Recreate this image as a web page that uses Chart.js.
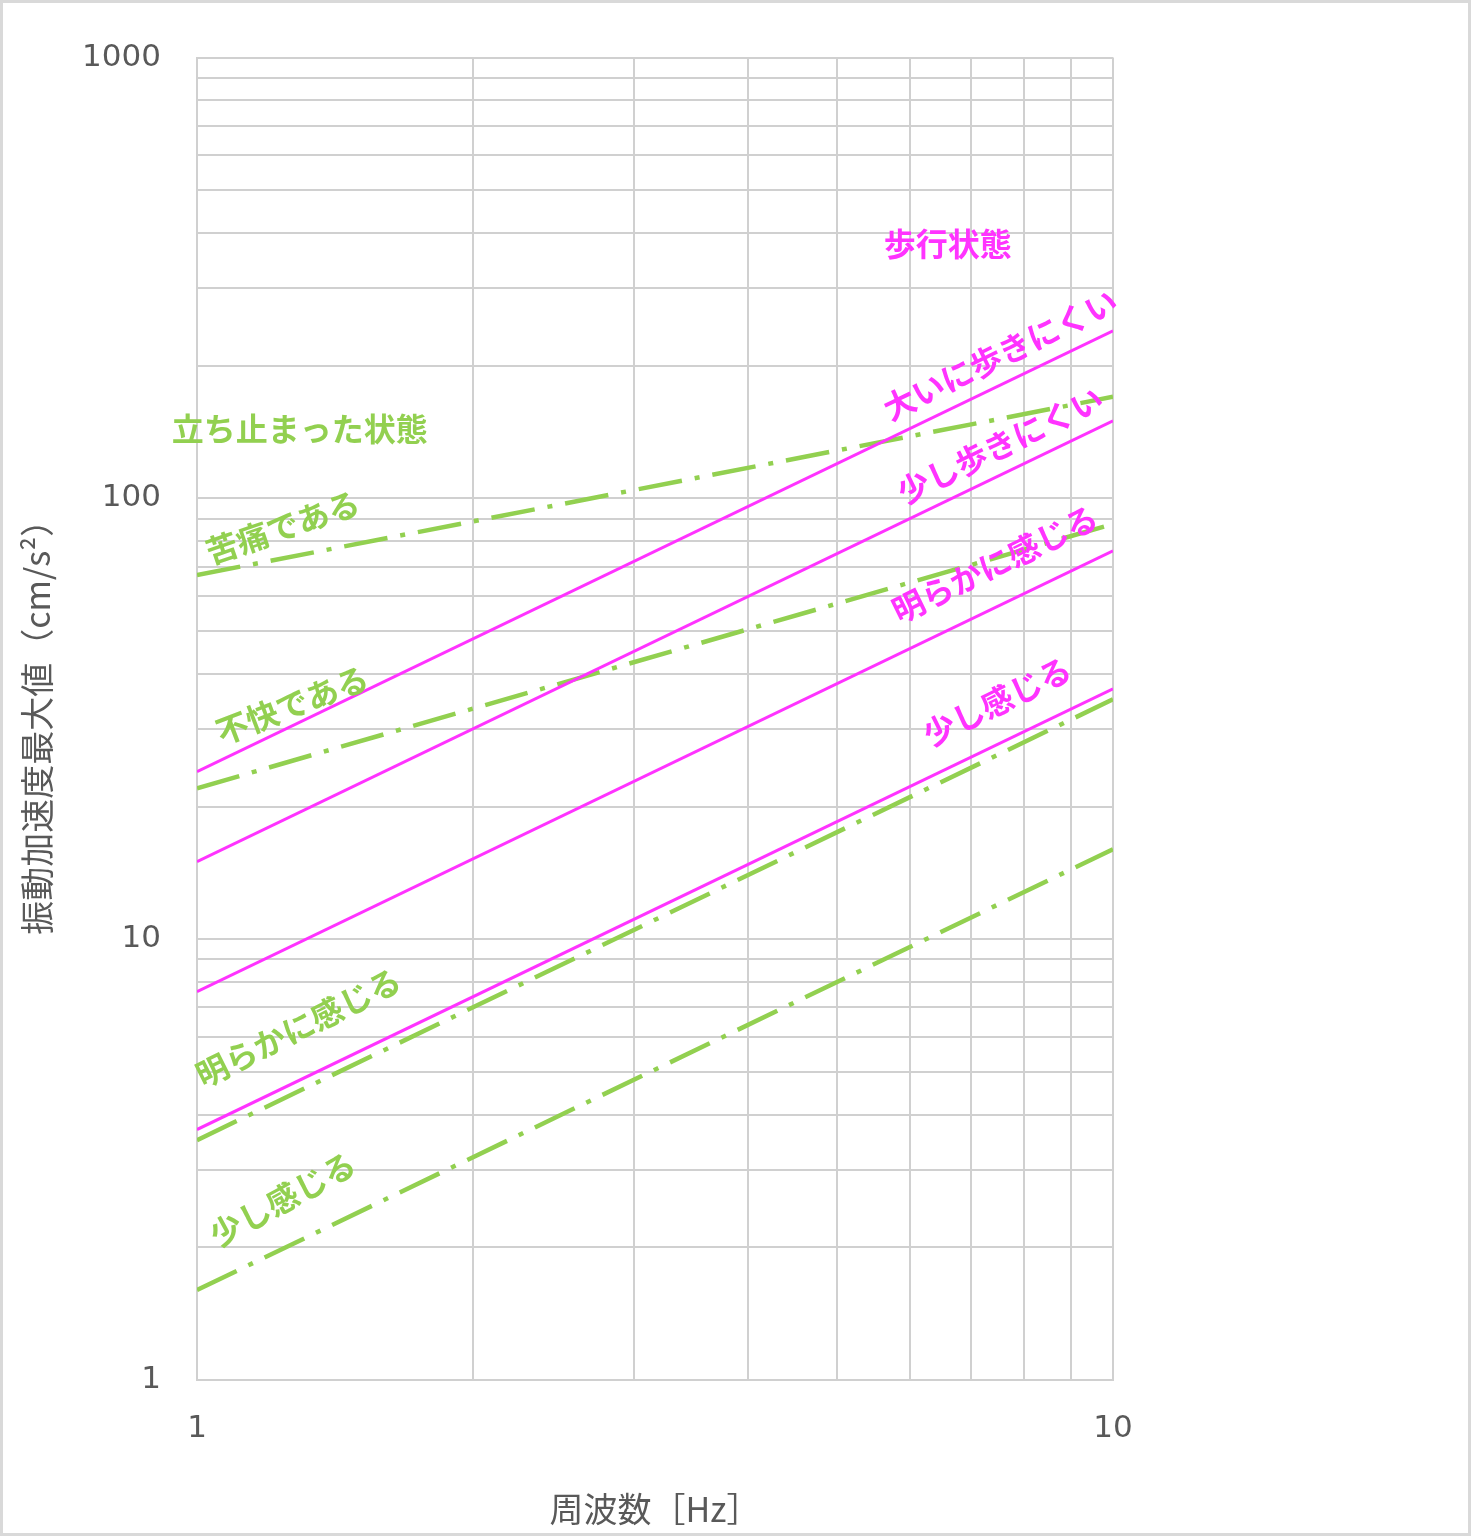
<!DOCTYPE html>
<html><head><meta charset="utf-8">
<script src="https://cdn.jsdelivr.net/npm/chart.js@4/dist/chart.umd.min.js"></script>
<style>
html,body{margin:0;padding:0;background:#fff}
#wrap{width:1471px;height:1536px;position:relative;box-sizing:border-box;border:3px solid #d9d9d9}
canvas{position:absolute;left:0;top:0}
</style></head><body>
<div id="wrap"><canvas id="c" width="1465" height="1530"></canvas></div>
<script>
const xRange = [1, 10];
const walkBad   = [24, 240];   // 大いに歩きにくい
const walkHard  = [15, 150];   // 少し歩きにくい
const walkClear = [7.6, 76];   // 明らかに感じる
const walkSlight= [3.7, 37];   // 少し感じる
const standPain = [67, 170];   // 苦痛である
const standUnc  = [22, 87.5];  // 不快である
const standClear= [3.5, 35];   // 明らかに感じる
const standSlight=[1.6, 16];   // 少し感じる
const yTickLabels = ['1','10','100','1000'];
const xTickLabels = ['1','10'];

const MAG = '#ff33ff', GRN = '#92d050';
const labels = [
  {t:'歩行状態', x:6.6, y:378, a:0, c:MAG},
  {t:'大いに歩きにくい', x:7.53, y:212, a:-26, c:MAG},
  {t:'少し歩きにくい', x:7.53, y:132, a:-26, c:MAG},
  {t:'明らかに感じる', x:7.43, y:71, a:-26, c:MAG},
  {t:'少し感じる', x:7.47, y:34.6, a:-26, c:MAG},
  {t:'立ち止まった状態', x:1.295, y:144, a:0, c:GRN},
  {t:'苦痛である', x:1.24, y:86, a:-19, c:GRN},
  {t:'不快である', x:1.27, y:34, a:-21, c:GRN},
  {t:'明らかに感じる', x:1.29, y:6.3, a:-26.5, c:GRN},
  {t:'少し感じる', x:1.24, y:2.57, a:-28.5, c:GRN},
];
const mk = (v,c,dash,w)=>({data:[{x:xRange[0],y:v[0]},{x:xRange[1],y:v[1]}],borderColor:c,borderWidth:w,borderDash:dash,pointRadius:0,fill:false});
const GD=[44,13,5,13];
const datasets=[
  mk(walkBad,MAG,[],3),mk(walkHard,MAG,[],3),mk(walkClear,MAG,[],3),mk(walkSlight,MAG,[],3),
  mk(standPain,GRN,GD,4.5),mk(standUnc,GRN,GD,4.5),mk(standClear,GRN,GD,4.5),mk(standSlight,GRN,GD,4.5)
];
function logTicks(min,max){const t=[];for(let e=Math.log10(min);e<Math.log10(max);e++){for(let m=1;m<10;m++)t.push({value:m*Math.pow(10,e)});}t.push({value:max});return t;}
const labelPlugin={id:'lbl',afterDatasetsDraw(ch){const ctx=ch.ctx,xs=ch.scales.x,ys=ch.scales.y;ctx.save();ctx.font='bold 32px "Noto Sans CJK JP"';ctx.textAlign='center';ctx.textBaseline='middle';
labels.forEach(l=>{ctx.save();ctx.translate(xs.getPixelForValue(l.x),ys.getPixelForValue(l.y));ctx.rotate(l.a*Math.PI/180);ctx.fillStyle=l.c;ctx.fillText(l.t,0,0);ctx.restore();});ctx.restore();}};
new Chart(document.getElementById('c'),{type:'line',data:{datasets},
options:{responsive:false,animation:false,layout:{padding:{top:18,right:355,bottom:0,left:10}},
plugins:{legend:{display:false},tooltip:{enabled:false}},
scales:{
x:{type:'logarithmic',min:1,max:10,afterBuildTicks:s=>{s.ticks=logTicks(1,10);},afterFit:s=>{s.height=153;},
 grid:{color:'#d0d0d0',lineWidth:2,drawTicks:false},border:{color:'#d0d0d0',width:2},
 ticks:{autoSkip:false,maxRotation:0,padding:30,color:'#595959',font:{family:'DejaVu Sans',size:31},callback:v=>xTickLabels.includes(String(v))?String(v):''},
 title:{display:true,text:'周波数［Hz］',color:'#595959',font:{family:'Noto Sans CJK JP',size:34},padding:{top:0}}},
y:{type:'logarithmic',min:1,max:1000,afterBuildTicks:s=>{s.ticks=logTicks(1,1000);},afterFit:s=>{s.width=184;},
 grid:{color:'#d0d0d0',lineWidth:2,drawTicks:false},border:{color:'#d0d0d0',width:2},
 ticks:{autoSkip:false,padding:36,color:'#595959',font:{family:'DejaVu Sans',size:31},callback:v=>yTickLabels.includes(String(v))?String(v):''},
 title:{display:true,text:'振動加速度最大値（cm/s²）',color:'#595959',font:{family:'Noto Sans CJK JP',size:34},padding:{bottom:0}}}
}},plugins:[labelPlugin]});
</script></body></html>
